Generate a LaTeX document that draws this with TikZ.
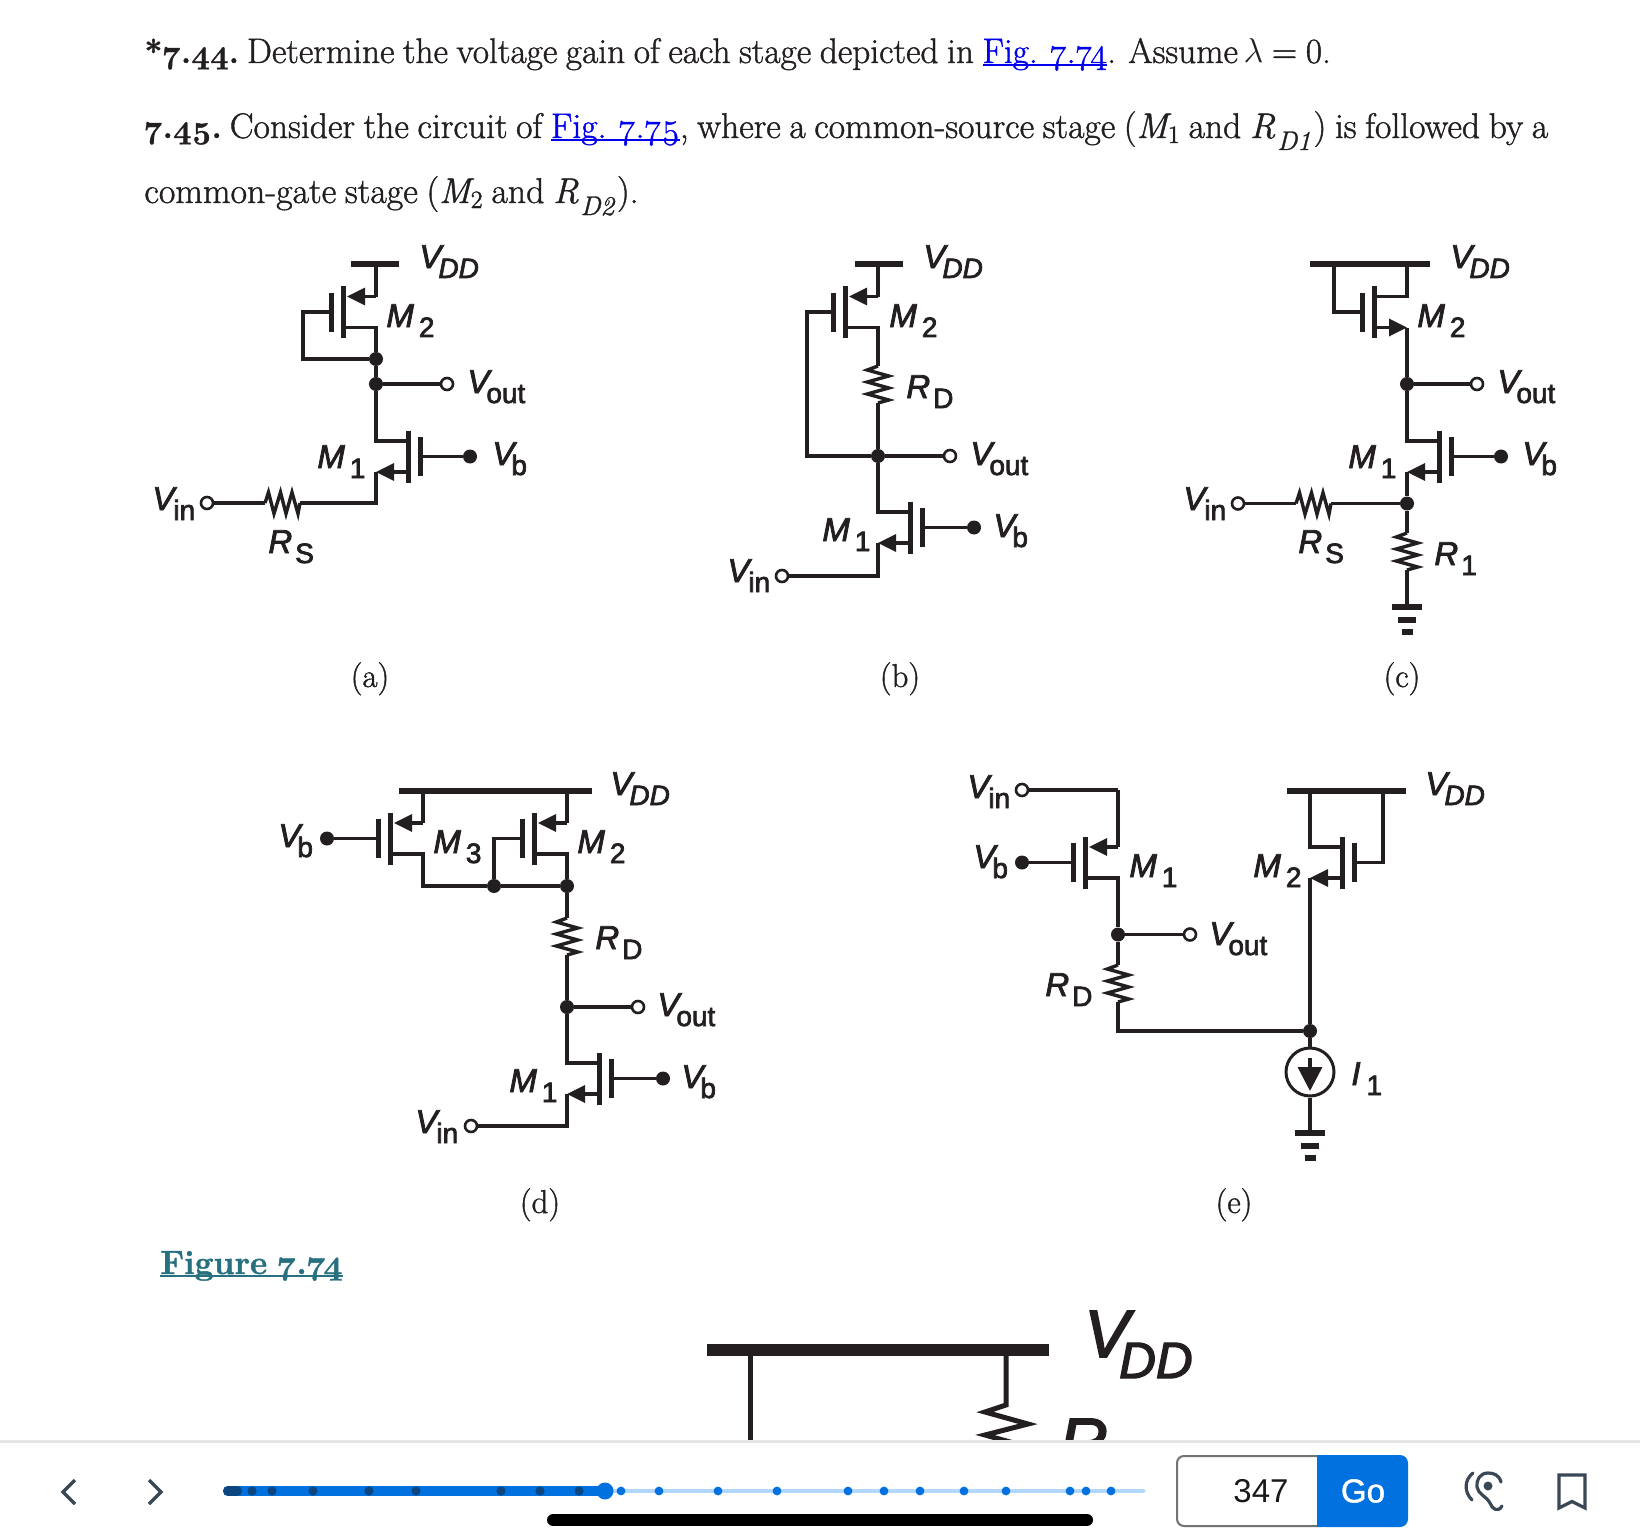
\documentclass[tikz,border=0pt]{standalone}
\usepackage{fontspec}
\usetikzlibrary{arrows.meta,calc}
\setmainfont{Latin Modern Roman}[Numbers=OldStyle,FakeBold=1.2,WordSpace=0.8]
\newfontfamily\lbf{Liberation Sans}[FakeBold=2.5]
\newfontfamily\uif{Liberation Sans}
\newfontfamily\gof{Liberation Sans}[FakeBold=1.5]
\definecolor{linkblue}{HTML}{0000EE}
\definecolor{figteal}{HTML}{27707F}
\definecolor{navblue}{HTML}{0071DE}
\definecolor{navdark}{HTML}{0B4680}
\definecolor{navlight}{HTML}{B3D8FF}
\definecolor{navicon}{HTML}{3A4856}
\definecolor{ink}{HTML}{231F20}
\newcommand\ul[1]{\setbox0\hbox{#1}\rlap{\rule[-1.6pt]{\wd0}{0.9pt}}\box0}
\newcommand\subD[1]{\kern1pt\raisebox{-6pt}{\fontsize{13.5}{15}\selectfont\itshape\addfontfeature{Numbers=Lining}#1}\kern1.5pt}
\newcommand\subM[1]{{\itshape M}\raisebox{-2.5pt}{\fontsize{12.5}{14}\selectfont\addfontfeature{Numbers=Lining}#1}}
\tikzset{
 x=0.5pt,y=-0.5pt,
 wire/.style={draw=ink,line width=1.7pt,line join=miter},
 plate/.style={draw=ink,line width=2.9pt},
 railbar/.style={draw=ink,line width=3pt},
 gbar/.style={draw=ink,line width=3pt},
 fettip/.style={-{Triangle[length=9pt,width=8.5pt,color=ink]}},
 soliddot/.style={circle,fill=ink,inner sep=0pt,minimum size=7pt},
 hollow/.style={circle,draw=ink,fill=white,line width=1.3pt,inner sep=0pt,minimum size=6pt},
 lab/.style={anchor=base west,inner sep=0pt,text=ink},
 subcap/.style={anchor=base,inner sep=0pt,font=\fontsize{16.5}{18}\selectfont,text=ink},
 bodytext/.style={anchor=base west,inner sep=0pt,font=\fontsize{17.7}{20}\selectfont,text=ink},
 navdot/.style={circle,fill=navdark,inner sep=0pt,minimum size=4.6pt},
 navdotb/.style={circle,fill=navblue,inner sep=0pt,minimum size=4.4pt},
 icon/.style={draw=navicon,line width=1.6pt,line cap=round,line join=round},
}
% name, column x, centre y, direction of gate (-1 left, 1 right)
\newcommand\fet[4]{%
 \coordinate (#1-t) at (#2,#3-15.5);
 \coordinate (#1-b) at (#2,#3+15.5);
 \coordinate (#1-ct) at (#2+#4*32.5,#3-15.5);
 \coordinate (#1-cb) at (#2+#4*32.5,#3+15.5);
 \coordinate (#1-ti) at (#2+#4*29,#3-15.5);
 \coordinate (#1-g) at (#2+#4*44.5,#3);
 \draw[plate] (#2+#4*32.5,#3-26) -- (#2+#4*32.5,#3+26);
 \draw[plate] (#2+#4*44.5,#3-19.5) -- (#2+#4*44.5,#3+19.5);
}
\newcommand\resv[3]{%
 \coordinate (#1-t) at (#2,#3);
 \coordinate (#1-b) at (#2,#3+37);
 \draw[wire] (#1-t) -- ++(-10.7,4) -- ++(21.4,6) -- ++(-21.4,6) -- ++(21.4,6) -- ++(-21.4,6) -- ++(21.4,6) -- (#1-b);
}
\newcommand\resh[3]{%
 \coordinate (#1-l) at (#2,#3);
 \coordinate (#1-r) at (#2+35,#3);
 \draw[wire] (#1-l) -- ++(3.5,-10.7) -- ++(5.5,21.4) -- ++(6.5,-21.4) -- ++(5.5,21.4) -- ++(6,-21.4) -- ++(6,21.4) -- (#1-r);
}
\newcommand\gnd[3]{%
 \coordinate (#1) at (#2,#3);
 \draw[gbar] (#2-15,#3) -- (#2+15,#3);
 \draw[gbar] (#2-9,#3+12.5) -- (#2+9,#3+12.5);
 \draw[gbar] (#2-5.5,#3+25) -- (#2+5.5,#3+25);
}
% node name, x, y, main, sub, gap
\newcommand\lbl[6]{%
 \node[lab] (#1) at (#2,#3) {\lbf\fontsize{16.5}{18}\selectfont\itshape #4\kern#6\raisebox{-5pt}{\fontsize{14}{15}\selectfont #5}};
}
\newcommand\lbli[6]{%
 \node[lab] (#1) at (#2,#3) {\lbf\fontsize{16.5}{18}\selectfont\itshape #4\kern#6\raisebox{-5pt}{\fontsize{14}{15}\selectfont\upshape #5}};
}
\begin{document}
\begin{tikzpicture}
\useasboundingbox (0,0) rectangle (1640,1536);
\fill[white] (0,0) rectangle (1640,1536);

% ---------- text
\node[bodytext] (t1) at (144,63) {{\fontsize{16.2}{20}\selectfont\bfseries *7.44.}\kern4pt Determine the voltage gain of each stage depicted in {\color{linkblue}\ul{Fig. 7.74}}. Assume \kern-1.5pt$\lambda$ {\addfontfeature{Numbers=Lining}= 0}.};
\node[bodytext,font=\fontsize{17.8}{20}\selectfont] (t2) at (144,138) {{\fontsize{16.2}{20}\selectfont\bfseries 7.45.}\kern4pt Consider the circuit of {\color{linkblue}\ul{Fig. 7.75}}, where a common-source stage (\subM{1} and {\itshape R}\subD{D1}) is followed by a};
\node[bodytext,font=\fontsize{17.9}{20}\selectfont] (t3) at (144,203) {common-gate stage (\subM{2} and {\itshape R}\subD{D2}).};
\node[anchor=base west,inner sep=0pt,text=figteal,font=\fontsize{16.8}{20}\selectfont\bfseries] (figcap) at (160,1274) {\ul{Figure 7.74}};

% ---------- (a)
\fet{am2}{376}{312}{-1}
\fet{am1}{376}{456.5}{1}
\draw[railbar] (351,264) -- (399,264);
\coordinate (a-rail) at (376,264);
\node[soliddot] (a-d2) at (376,359) {};
\node[soliddot] (a-o) at (376,384) {};
\node[hollow] (a-vout) at (447,384) {};
\node[soliddot] (a-vb) at (470,456.5) {};
\node[hollow] (a-vin) at (207,503) {};
\resh{a-rs}{265}{503}
\draw[wire] (a-rail) -- (am2-t);
\draw[wire,fettip] (am2-t) -- (am2-ti);
\draw[wire] (am2-cb) -- (am2-b) -- (a-d2);
\draw[wire] (am2-g) -| (303,359) -- (a-d2);
\draw[wire] (a-d2) -- (a-o);
\draw[wire] (a-o) -- (a-vout);
\draw[wire] (a-o) |- (am1-ct);
\draw[wire] (am1-g) -- (a-vb);
\draw[wire,fettip] (am1-cb) -- (am1-b);
\draw[wire] (am1-b) |- (a-rs-r);
\draw[wire] (a-rs-l) -- (a-vin);
\lbl{a-lvdd}{419}{268}{V}{DD}{-1.5pt}
\lbl{a-lm2}{386}{327}{M}{\upshape 2}{2.5pt}
\lbli{a-lvout}{467}{393}{V}{out}{-1.5pt}
\lbli{a-lvb}{492}{465}{V}{b}{-1.5pt}
\lbl{a-lm1}{317}{468}{M}{\upshape 1}{2.5pt}
\lbli{a-lvin}{152}{510}{V}{in}{-0.5pt}
\lbli{a-lrs}{268}{553}{R}{S}{1.5pt}
\node[subcap] (cap-a) at (370,687) {(a)};

% ---------- (b)
\fet{bm2}{878}{312}{-1}
\fet{bm1}{878}{527.5}{1}
\draw[railbar] (855,264) -- (903,264);
\coordinate (b-rail) at (878,264);
\node[soliddot] (b-o) at (878,456) {};
\node[hollow] (b-vout) at (950,456) {};
\node[soliddot] (b-vb) at (974,527.5) {};
\node[hollow] (b-vin) at (782,576) {};
\resv{b-rd}{878}{366}
\draw[wire] (b-rail) -- (bm2-t);
\draw[wire,fettip] (bm2-t) -- (bm2-ti);
\draw[wire] (bm2-cb) -- (bm2-b) -- (b-rd-t);
\draw[wire] (b-rd-b) -- (b-o);
\draw[wire] (bm2-g) -| (807,456) -- (b-o);
\draw[wire] (b-o) -- (b-vout);
\draw[wire] (b-o) |- (bm1-ct);
\draw[wire] (bm1-g) -- (b-vb);
\draw[wire,fettip] (bm1-cb) -- (bm1-b);
\draw[wire] (bm1-b) |- (b-vin);
\lbl{b-lvdd}{923}{268}{V}{DD}{-1.5pt}
\lbl{b-lm2}{889}{327}{M}{\upshape 2}{2.5pt}
\lbli{b-lrd}{906}{398}{R}{D}{1.5pt}
\lbli{b-lvout}{970}{465}{V}{out}{-1.5pt}
\lbli{b-lvb}{993}{537}{V}{b}{-1.5pt}
\lbl{b-lm1}{822}{541}{M}{\upshape 1}{2.5pt}
\lbli{b-lvin}{727}{582}{V}{in}{-0.5pt}
\node[subcap] (cap-b) at (900,687) {(b)};

% ---------- (c)
\fet{cm2}{1407}{312}{-1}
\fet{cm1}{1407}{456.5}{1}
\draw[railbar] (1310,264) -- (1430,264);
\coordinate (c-rail) at (1407,264);
\coordinate (c-railg) at (1334,264);
\node[soliddot] (c-o) at (1407,384) {};
\node[hollow] (c-vout) at (1477,384) {};
\node[soliddot] (c-vb) at (1501,456.5) {};
\node[soliddot] (c-s) at (1407,503.5) {};
\node[hollow] (c-vin) at (1238,503.5) {};
\resh{c-rs}{1296}{503.5}
\resv{c-r1}{1407}{533}
\gnd{c-g}{1407}{607}
\draw[wire] (c-rail) |- (cm2-ct);
\draw[wire] (c-railg) |- (cm2-g);
\draw[wire,fettip] (cm2-cb) -- (cm2-b);
\draw[wire] (cm2-b) -- (c-o);
\draw[wire] (c-o) -- (c-vout);
\draw[wire] (c-o) |- (cm1-ct);
\draw[wire] (cm1-g) -- (c-vb);
\draw[wire,fettip] (cm1-cb) -- (cm1-b);
\draw[wire] (cm1-b) -- (c-s);
\draw[wire] (c-s) -- (c-rs-r);
\draw[wire] (c-rs-l) -- (c-vin);
\draw[wire] (c-s) -- (c-r1-t);
\draw[wire] (c-r1-b) -- (c-g);
\lbl{c-lvdd}{1450}{268}{V}{DD}{-1.5pt}
\lbl{c-lm2}{1417}{327}{M}{\upshape 2}{2.5pt}
\lbli{c-lvout}{1497}{393}{V}{out}{-1.5pt}
\lbli{c-lvb}{1522}{465}{V}{b}{-1.5pt}
\lbl{c-lm1}{1348}{468}{M}{\upshape 1}{2.5pt}
\lbli{c-lvin}{1183}{510}{V}{in}{-0.5pt}
\lbli{c-lrs}{1298}{553}{R}{S}{1.5pt}
\lbl{c-lr1}{1434}{565}{R}{\upshape 1}{1.5pt}
\node[subcap] (cap-c) at (1402,687) {(c)};

% ---------- (d)
\fet{dm3}{423}{838.5}{-1}
\fet{dm2}{567}{838.5}{-1}
\fet{dm1}{567}{1078.5}{1}
\draw[railbar] (399,791) -- (592,791);
\coordinate (d-rail3) at (423,791);
\coordinate (d-rail2) at (567,791);
\node[soliddot] (d-vb3) at (327,838.5) {};
\node[soliddot] (d-j1) at (494,886) {};
\node[soliddot] (d-j2) at (567,886) {};
\node[soliddot] (d-o) at (567,1007) {};
\node[hollow] (d-vout) at (638,1007) {};
\node[soliddot] (d-vb) at (663,1078.5) {};
\node[hollow] (d-vin) at (471,1126) {};
\resv{d-rd}{567}{918}
\draw[wire] (d-rail3) -- (dm3-t);
\draw[wire,fettip] (dm3-t) -- (dm3-ti);
\draw[wire] (dm3-g) -- (d-vb3);
\draw[wire] (dm3-cb) -- (dm3-b) |- (d-j1);
\draw[wire] (d-rail2) -- (dm2-t);
\draw[wire,fettip] (dm2-t) -- (dm2-ti);
\draw[wire] (dm2-g) -| (d-j1);
\draw[wire] (dm2-cb) -- (dm2-b) -- (d-j2);
\draw[wire] (d-j1) -- (d-j2);
\draw[wire] (d-j2) -- (d-rd-t);
\draw[wire] (d-rd-b) -- (d-o);
\draw[wire] (d-o) -- (d-vout);
\draw[wire] (d-o) |- (dm1-ct);
\draw[wire] (dm1-g) -- (d-vb);
\draw[wire,fettip] (dm1-cb) -- (dm1-b);
\draw[wire] (dm1-b) |- (d-vin);
\lbl{d-lvdd}{610}{795}{V}{DD}{-1.5pt}
\lbl{d-lm3}{433}{853}{M}{\upshape 3}{2.5pt}
\lbl{d-lm2}{577}{853}{M}{\upshape 2}{2.5pt}
\lbli{d-lvb3}{278}{847}{V}{b}{-1.5pt}
\lbli{d-lrd}{595}{949}{R}{D}{1.5pt}
\lbli{d-lvout}{657}{1016}{V}{out}{-1.5pt}
\lbli{d-lvb}{681}{1088}{V}{b}{-1.5pt}
\lbl{d-lm1}{509}{1092}{M}{\upshape 1}{2.5pt}
\lbli{d-lvin}{415}{1133}{V}{in}{-0.5pt}
\node[subcap] (cap-d) at (540,1213) {(d)};

% ---------- (e)
\fet{em1}{1118}{862.5}{-1}
\fet{em2}{1310}{862.5}{1}
\draw[railbar] (1287,791) -- (1406,791);
\coordinate (e-rail1) at (1310,791);
\coordinate (e-rail2) at (1383,791);
\node[hollow] (e-vin) at (1022,790) {};
\coordinate (e-in) at (1118,790);
\node[soliddot] (e-vb) at (1022,862.5) {};
\node[soliddot] (e-o) at (1118,934.5) {};
\node[hollow] (e-vout) at (1190,934.5) {};
\node[soliddot] (e-j) at (1310,1031) {};
\node[circle,draw=ink,fill=white,line width=1.5pt,inner sep=0pt,minimum size=24pt] (e-i) at (1310,1072) {};
\resv{e-rd}{1118}{965}
\gnd{e-g}{1310}{1133}
\draw[wire] (e-vin) -- (e-in);
\draw[wire] (e-in) -- (em1-t);
\draw[wire,fettip] (em1-t) -- (em1-ti);
\draw[wire] (em1-g) -- (e-vb);
\draw[wire] (em1-cb) -- (em1-b) -- (e-o);
\draw[wire] (e-o) -- (e-vout);
\draw[wire] (e-o) -- (e-rd-t);
\draw[wire] (e-rd-b) |- (e-j);
\draw[wire] (e-rail1) |- (em2-ct);
\draw[wire] (e-rail2) |- (em2-g);
\draw[wire,fettip] (em2-cb) -- (em2-b);
\draw[wire] (em2-b) -- (e-j);
\draw[wire] (e-j) -- (e-i);
\draw[wire] (e-i) -- (e-g);
\coordinate (e-ia) at (1310,1058);
\coordinate (e-ib) at (1310,1091);
\draw[wire,-{Triangle[length=12pt,width=12pt,color=ink]}] (e-ia) -- (e-ib);
\lbl{e-lvdd}{1425}{795}{V}{DD}{-1.5pt}
\lbli{e-lvin}{967}{798}{V}{in}{-0.5pt}
\lbli{e-lvb}{973}{868}{V}{b}{-1.5pt}
\lbl{e-lm1}{1129}{877}{M}{\upshape 1}{2.5pt}
\lbl{e-lm2}{1253}{877}{M}{\upshape 2}{2.5pt}
\lbli{e-lvout}{1209}{945}{V}{out}{-1.5pt}
\lbli{e-lrd}{1045}{996}{R}{D}{1.5pt}
\lbl{e-li1}{1351}{1085}{I}{\upshape 1}{3pt}
\node[subcap] (cap-e) at (1234,1213) {(e)};

% ---------- clipped circuit of the next figure
\draw[draw=ink,line width=6pt] (707,1350) -- (1049,1350);
\coordinate (n-rl) at (750,1350);
\coordinate (n-rr) at (1006,1350);
\coordinate (n-rl2) at (750,1450);
\draw[draw=ink,line width=2.5pt] (n-rl) -- (n-rl2);
\draw[draw=ink,line width=2.5pt,line join=miter] (n-rr) -- (1006,1405) -- (985,1412) -- (1028,1424) -- (985,1435) -- (1028,1447);
\node[lab] (n-v) at (1084,1357) {\lbf\fontsize{33.5}{36}\selectfont\itshape V\kern-5pt\raisebox{-10.5pt}{\fontsize{25.5}{27}\selectfont DD}};
\node[lab] (n-r) at (1059,1465) {\lbf\fontsize{33.5}{36}\selectfont\itshape R};

% ---------- navigation bar
\fill[white] (0,1442) rectangle (1640,1536);
\fill[black!10] (0,1440) rectangle (1640,1442.5);
\draw[icon,line join=miter,line cap=butt] (75,1480) -- (63,1492) -- (75,1504);
\draw[icon,line join=miter,line cap=butt] (149,1480) -- (161,1492) -- (149,1504);
\draw[navlight,line width=2.4pt,line cap=round] (605,1491) -- (1143,1491);
\draw[navblue,line width=5pt,line cap=round] (228,1491) -- (605,1491);
\draw[navdark,line width=5pt,line cap=round] (228,1491) -- (237,1491);
\foreach \dx/\nm in {252/a,272/b,313/c,369/d,416/e,501/f,540/g,579/h}
 \node[navdot] (nd\nm) at (\dx,1491) {};
\foreach \dx/\nm in {621/a,659/b,718/c,777/d,848/e,884/f,920/g,964/h,1006/i,1070/j,1086/k,1111/l}
 \node[navdotb] (nl\nm) at (\dx,1491) {};
\node[circle,fill=navblue,inner sep=0pt,minimum size=8.5pt] (thumb) at (605,1491) {};
\draw[black,line width=6pt,line cap=round] (553,1520) -- (1087,1520);
\draw[draw=black!55,line width=1pt,fill=white,rounded corners=3.5pt] (1177,1456) rectangle (1330,1526);
\fill[navblue,rounded corners=4pt] (1317,1455) rectangle (1408,1527);
\fill[navblue] (1317,1455) rectangle (1335,1527);
\node[inner sep=0pt,text=black!90,font=\uif\fontsize{16.5}{18}\selectfont] (pg) at (1261,1491) {347};
\node[inner sep=0pt,text=white,font=\gof\fontsize{16.5}{18}\selectfont] (go) at (1363,1491) {Go};
% ear
\draw[icon] (1473,1473) .. controls (1464,1480) and (1464,1492) .. (1472,1500);
\draw[icon] (1501,1482) .. controls (1499,1475) and (1494,1473) .. (1488,1473) .. controls (1480,1473) and (1476,1480) .. (1477,1487) .. controls (1478,1494) and (1486,1496) .. (1490,1503) .. controls (1492,1509) and (1498,1513) .. (1502,1506);
\fill[navicon] (1488,1486) circle[radius=4.5];
% bookmark
\draw[icon,line join=miter,line cap=butt,fill=white] (1559,1475) -- (1585,1475) -- (1585,1508) -- (1572,1501.5) -- (1559,1508) -- cycle;
\end{tikzpicture}
\end{document}
